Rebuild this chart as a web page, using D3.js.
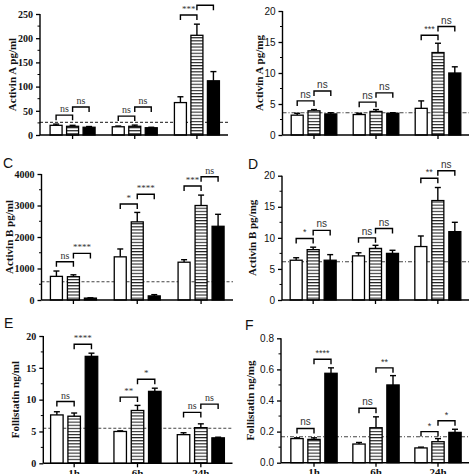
<!DOCTYPE html>
<html><head><meta charset="utf-8">
<script src="https://cdn.jsdelivr.net/npm/d3@7"></script>
<style>body{margin:0;background:#fff}svg{display:block}</style>
</head><body>
<svg id="c" width="474" height="474"></svg>
<script>
// ---------- DATA ----------
const groups = ["1h", "6h", "24h"];
const seriesNames = ["open", "striped", "solid"];

const activinA_ml = [[20, 18, 16], [17, 18, 15], [67, 206, 112]];
const activinA_ml_err = [[2.5, 2, 1.5], [1.5, 2.5, 1], [12, 23, 19]];
const activinA_ml_ref = 26;
const activinA_ml_sig = [[0,0,1,41,"ns"],[0,1,2,58,"ns"],[1,0,1,39,"ns"],[1,1,2,58,"ns"],[2,0,1,248,"***"],[2,1,2,268,"*"]];
const activinA_ml_ticks = [0, 50, 100, 150, 200, 250];

const activinA_mg = [[3.2, 3.9, 3.4], [3.3, 3.8, 3.5], [4.3, 13.3, 10.0]];
const activinA_mg_err = [[0.3, 0.2, 0.2], [0.2, 0.3, 0.1], [1.2, 1.5, 1.0]];
const activinA_mg_ref = 3.6;
const activinA_mg_sig = [[0,0,1,5.5,"ns"],[0,1,2,7.1,"ns"],[1,0,1,5.3,"ns"],[1,1,2,6.8,"ns"],[2,0,1,16.1,"***"],[2,1,2,17.5,"ns"]];
const activinA_mg_ticks = [0, 5, 10, 15, 20];

const activinB_ml = [[750, 740, 60], [1370, 2480, 130], [1200, 3000, 2340]];
const activinB_ml_err = [[170, 60, 10], [250, 300, 40], [80, 330, 380]];
const activinB_ml_ref = 580;
const activinB_ml_sig = [[0,0,1,1216,"ns"],[0,1,2,1480,"****"],[1,0,1,3050,"*"],[1,1,2,3355,"****"],[2,0,1,3620,"***"],[2,1,2,3915,"ns"]];
const activinB_ml_ticks = [0, 1000, 2000, 3000, 4000];

const activinB_mg = [[6.4, 8.1, 6.4], [7.1, 8.3, 7.5], [8.6, 16.0, 11.0]];
const activinB_mg_err = [[0.4, 0.4, 0.9], [0.5, 0.5, 0.5], [1.7, 2.1, 1.5]];
const activinB_mg_ref = 6.15;
const activinB_mg_sig = [[0,0,1,9.9,"*"],[0,1,2,11.2,"ns"],[1,0,1,10.0,"ns"],[1,1,2,11.5,"ns"],[2,0,1,19.6,"**"],[2,1,2,20.8,"ns"]];
const activinB_mg_ticks = [0, 5, 10, 15, 20];

const follistatin_ml = [[7.6, 7.4, 16.8], [5.0, 8.3, 11.3], [4.5, 5.6, 4.0]];
const follistatin_ml_err = [[0.5, 0.5, 0.5], [0.1, 0.8, 0.5], [0.3, 0.6, 0.1]];
const follistatin_ml_ref = 5.5;
const follistatin_ml_sig = [[0,0,1,9.7,"ns"],[0,1,2,18.7,"****"],[1,0,1,10.4,"**"],[1,1,2,13.2,"*"],[2,0,1,8.0,"ns"],[2,1,2,9.3,"ns"]];
const follistatin_ml_ticks = [0, 5, 10, 15, 20];

const follistatin_mg = [[0.155, 0.15, 0.575], [0.12, 0.225, 0.5], [0.095, 0.135, 0.195]];
const follistatin_mg_err = [[0.005, 0.01, 0.035], [0.01, 0.07, 0.06], [0.005, 0.02, 0.02]];
const follistatin_mg_ref = 0.167;
const follistatin_mg_sig = [[0,0,1,0.22,"ns"],[0,1,2,0.665,"****"],[1,0,1,0.35,"ns"],[1,1,2,0.61,"**"],[2,0,1,0.2,"*"],[2,1,2,0.27,"*"]];
const follistatin_mg_ticks = [0, 0.2, 0.4, 0.6, 0.8];

// ---------- LAYOUT ----------
const SERIF = "'Liberation Serif','Times New Roman',serif";
const SANS = "'Liberation Sans',Arial,sans-serif";
const panels = [
  {v: activinA_ml, e: activinA_ml_err, ref: activinA_ml_ref, sig: activinA_ml_sig, ticks: activinA_ml_ticks,
   title: "Activin A pg/ml", ax: 40, x0: 41.5, x1: 228, yT: 14, yB: 135, tickFont: SERIF, bold: true, fmt: d3.format("d"),
   tx: 12, letter: null, xlabels: false, bw: 12, step: 16.5, dash: "3,2"},
  {v: activinA_mg, e: activinA_mg_err, ref: activinA_mg_ref, sig: activinA_mg_sig, ticks: activinA_mg_ticks,
   title: "Activin A pg/mg", ax: 282.5, x0: 283, x1: 469, yT: 11, yB: 135, tickFont: SANS, bold: false, fmt: d3.format("d"),
   tx: 258.5, letter: null, xlabels: false, bw: 12, step: 16.8, dash: "4,2,1,2"},
  {v: activinB_ml, e: activinB_ml_err, ref: activinB_ml_ref, sig: activinB_ml_sig, ticks: activinB_ml_ticks,
   title: "Activin B pg/ml", ax: 41.5, x0: 41.5, x1: 233, yT: 174, yB: 300, tickFont: SERIF, bold: true, fmt: d3.format("d"),
   tx: 9, letter: {t: "C", x: 3, y: 168}, xlabels: false, bw: 12, step: 17, dash: "3,2"},
  {v: activinB_mg, e: activinB_mg_err, ref: activinB_mg_ref, sig: activinB_mg_sig, ticks: activinB_mg_ticks,
   title: "Activin B pg/mg", ax: 282, x0: 282, x1: 469, yT: 175.7, yB: 300, tickFont: SANS, bold: false, fmt: d3.format("d"),
   tx: 252, letter: {t: "D", x: 248, y: 169}, xlabels: false, bw: 12, step: 17, dash: "4,2,1,2"},
  {v: follistatin_ml, e: follistatin_ml_err, ref: follistatin_ml_ref, sig: follistatin_ml_sig, ticks: follistatin_ml_ticks,
   title: "Follistatin ng/ml", ax: 43.3, x0: 42.5, x1: 232.5, yT: 336, yB: 463.3, tickFont: SERIF, bold: true, fmt: d3.format("d"),
   tx: 15, letter: {t: "E", x: 4, y: 328}, xlabels: true, bw: 12.5, step: 17.3, dash: "3,2"},
  {v: follistatin_mg, e: follistatin_mg_err, ref: follistatin_mg_ref, sig: follistatin_mg_sig, ticks: follistatin_mg_ticks,
   title: "Follistatin ng/mg", ax: 281, x0: 283, x1: 469, yT: 338.3, yB: 462.7, tickFont: SANS, bold: false, fmt: d3.format(".1f"),
   tx: 250, letter: {t: "F", x: 245, y: 330}, xlabels: true, bw: 12.3, step: 17, dash: "4,2,1,2"}
];

const svg = d3.select("#c");
const defs = svg.append("defs");
const pat = defs.append("pattern").attr("id", "stripes").attr("patternUnits", "userSpaceOnUse")
  .attr("width", 6).attr("height", 3.1);
pat.append("rect").attr("width", 6).attr("height", 3.1).attr("fill", "#fff");
pat.append("rect").attr("y", 0).attr("width", 6).attr("height", 1.1).attr("fill", "#222");
const fills = {open: "#fff", striped: "url(#stripes)", solid: "#000"};

panels.forEach(p => {
  const g = svg.append("g");
  const maxV = p.ticks[p.ticks.length - 1];
  const y = d3.scaleLinear().domain([0, maxV]).range([p.yB, p.yT]);
  const x = d3.scaleBand().domain(groups).range([p.x0, p.x1]);
  const inner = d3.scalePoint().domain(seriesNames).range([-p.step, p.step]);
  const cx = (gi, si) => x(groups[gi]) + x.bandwidth() / 2 + inner(seriesNames[si]);

  // reference dashed line
  g.append("line").attr("x1", p.ax).attr("x2", p.x1).attr("y1", y(p.ref)).attr("y2", y(p.ref))
    .attr("stroke", "#444").attr("stroke-width", 1.1).attr("stroke-dasharray", p.dash);

  // bars
  p.v.forEach((row, gi) => row.forEach((val, si) => {
    const c = cx(gi, si);
    const err = p.e[gi][si];
    g.append("line").attr("x1", c).attr("x2", c).attr("y1", y(val)).attr("y2", y(val + err))
      .attr("stroke", "#000").attr("stroke-width", 1.4);
    g.append("line").attr("x1", c - 3).attr("x2", c + 3).attr("y1", y(val + err)).attr("y2", y(val + err))
      .attr("stroke", "#000").attr("stroke-width", 1.4);
    g.append("rect").attr("x", c - p.bw / 2).attr("y", y(val)).attr("width", p.bw)
      .attr("height", y(0) - y(val)).attr("fill", fills[seriesNames[si]])
      .attr("stroke", "#000").attr("stroke-width", 1.3);
  }));

  // axes
  const yAxis = d3.axisLeft(y).tickValues(p.ticks).tickFormat(p.fmt).tickSize(4).tickPadding(3);
  const ya = g.append("g").attr("transform", `translate(${p.ax},0)`).call(yAxis);
  ya.select(".domain").attr("stroke-width", 1.4).attr("d", `M0,${p.yB}V${p.yT}`);
  ya.selectAll(".tick line").attr("stroke-width", 1.3);
  ya.selectAll("text").attr("font-family", p.tickFont).attr("font-weight", p.bold ? "bold" : "normal")
    .attr("font-size", 10).attr("fill", "#111");
  const minor = d3.range(p.ticks.length - 1).map(i => (p.ticks[i] + p.ticks[i + 1]) / 2);
  g.selectAll(null).data(minor).enter().append("line")
    .attr("x1", p.ax - 2.5).attr("x2", p.ax).attr("y1", d => y(d)).attr("y2", d => y(d))
    .attr("stroke", "#000").attr("stroke-width", 1);

  const xAxis = d3.axisBottom(x).tickSize(4).tickFormat(p.xlabels ? (d => d) : "").tickPadding(2);
  const xa = g.append("g").attr("transform", `translate(0,${p.yB})`).call(xAxis);
  xa.select(".domain").attr("stroke-width", 1.4).attr("d", `M${p.ax},0H${p.x1}`);
  xa.selectAll(".tick line").attr("stroke-width", 1.3);
  xa.selectAll("text").attr("font-family", SERIF).attr("font-weight", "bold").attr("font-size", 11).attr("fill", "#111");

  // title
  g.append("text").attr("transform", `translate(${p.tx},${(p.yT + p.yB) / 2}) rotate(-90)`)
    .attr("text-anchor", "middle").attr("dominant-baseline", "central")
    .attr("font-family", SERIF).attr("font-weight", "bold").attr("font-size", 11).attr("fill", "#111").text(p.title);

  // significance brackets
  p.sig.forEach(([gi, a, b, val, lab]) => {
    const xa1 = cx(gi, a), xb1 = cx(gi, b), yy = y(val);
    g.append("path").attr("d", `M${xa1},${yy + 5}V${yy}H${xb1}V${yy + 5}`)
      .attr("fill", "none").attr("stroke", "#000").attr("stroke-width", 1.4);
    g.append("text").attr("x", (xa1 + xb1) / 2).attr("y", yy - 3).attr("text-anchor", "middle")
      .attr("font-family", p.tickFont).attr("font-size", lab === "ns" ? 10 : 9).attr("fill", "#333").text(lab);
  });

  if (p.letter) {
    g.append("text").attr("x", p.letter.x).attr("y", p.letter.y).attr("font-family", SANS)
      .attr("font-size", 14).attr("fill", "#111").text(p.letter.t);
  }
});
</script>
</body></html>
